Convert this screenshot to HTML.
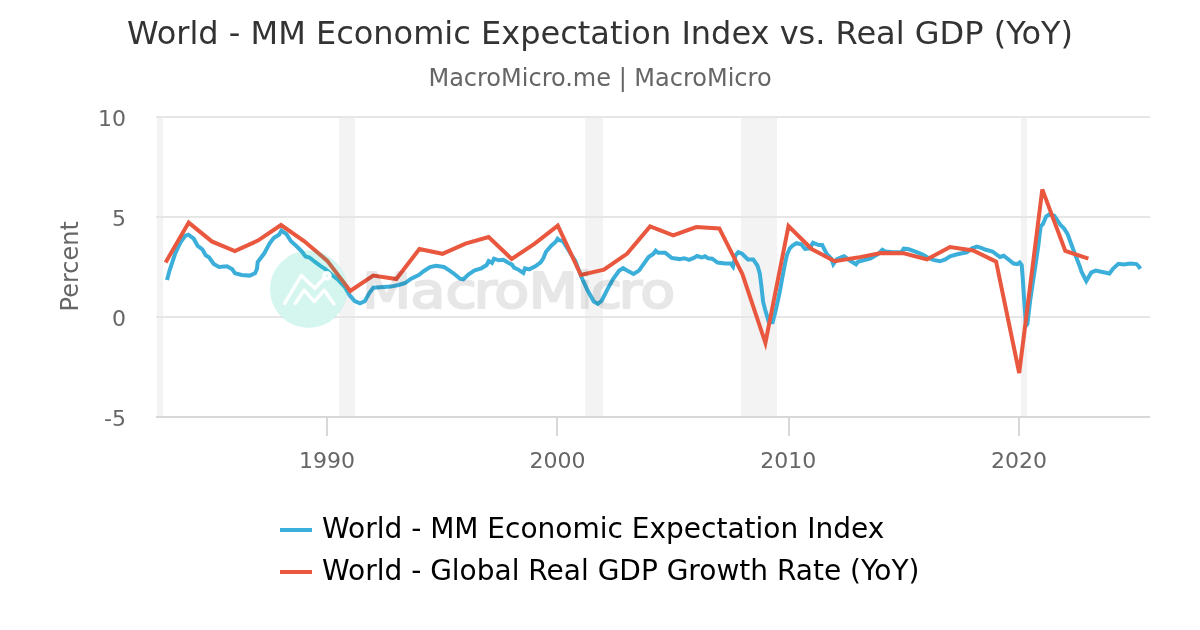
<!DOCTYPE html>
<html lang="en">
<head>
<meta charset="utf-8">
<title>World - MM Economic Expectation Index vs. Real GDP (YoY)</title>
<style>
html,body{margin:0;padding:0;background:#fff;}
body{width:1200px;height:630px;overflow:hidden;font-family:"DejaVu Sans","Liberation Sans",sans-serif;}
svg{display:block;}
svg text{font-family:"DejaVu Sans","Liberation Sans",sans-serif;}
</style>
</head>
<body>
<svg width="1200" height="630" viewBox="0 0 1200 630">
<rect width="1200" height="630" fill="#ffffff"/>
<g id="bands"><rect x="157" y="117" width="6.0" height="300" fill="#f3f3f3"/><rect x="339.2" y="117" width="15.7" height="300" fill="#f3f3f3"/><rect x="585.1" y="117" width="17.8" height="300" fill="#f3f3f3"/><rect x="741.1" y="117" width="35.9" height="300" fill="#f3f3f3"/><rect x="1021" y="117" width="5.9" height="300" fill="#f3f3f3"/></g>
<g id="grid"><path d="M156 117H1150" stroke="#e6e6e6" stroke-width="2"/><path d="M156 217H1150" stroke="#e6e6e6" stroke-width="2"/><path d="M156 317H1150" stroke="#e6e6e6" stroke-width="2"/></g>
<path d="M156 417H1150" stroke="#d8d8d8" stroke-width="2"/>
<g id="ticks"><path d="M327 416V436" stroke="#d8d8d8" stroke-width="2"/><path d="M557 416V436" stroke="#d8d8d8" stroke-width="2"/><path d="M789 416V436" stroke="#d8d8d8" stroke-width="2"/><path d="M1019 416V436" stroke="#d8d8d8" stroke-width="2"/></g>
<text x="600" y="44" text-anchor="middle" font-size="32" fill="#333333">World - MM Economic Expectation Index vs. Real GDP (YoY)</text>
<text x="600" y="86" text-anchor="middle" font-size="24" fill="#666666">MacroMicro.me | MacroMicro</text>
<text transform="translate(78,266.3) rotate(-90)" text-anchor="middle" font-size="24" fill="#666666">Percent</text>
<g font-size="22" fill="#666666"><text x="326.9" y="468" text-anchor="middle">1990</text><text x="557.6" y="468" text-anchor="middle">2000</text><text x="788.3" y="468" text-anchor="middle">2010</text><text x="1019.0" y="468" text-anchor="middle">2020</text><text x="126" y="126" text-anchor="end">10</text><text x="126" y="226" text-anchor="end">5</text><text x="126" y="326" text-anchor="end">0</text><text x="126" y="426" text-anchor="end">-5</text></g>
<circle cx="308.6" cy="289.3" r="38.2" fill="#ffffff"/>
<g id="series" fill="none" stroke-width="4">
<polyline stroke="#3bafda" stroke-linejoin="miter" stroke-linecap="butt" points="167.0,280.0 169.7,270.0 175.0,254.0 180.3,242.7 185.0,236.0 188.3,234.7 193.7,238.7 197.7,246.0 202.3,249.3 205.7,255.3 209.0,257.3 213.7,264.0 219.0,267.0 227.0,266.3 232.3,269.3 235.0,273.3 241.7,275.0 249.7,275.6 255.0,273.3 257.0,268.7 257.7,262.0 261.7,256.7 264.3,253.3 269.7,243.3 273.7,238.0 279.0,234.7 281.4,230.7 286.3,234.0 291.0,241.3 296.3,246.0 301.7,251.3 305.5,256.4 309.5,257.5 314.7,261.7 320.0,265.7 325.3,269.0 332.0,275.0 338.7,280.3 345.3,287.7 350.0,295.7 354.7,301.0 360.0,303.4 364.7,301.3 369.3,293.0 373.3,287.7 380.0,287.3 390.7,286.6 398.7,285.0 405.3,283.0 410.7,279.0 418.7,275.0 424.0,271.0 430.0,267.0 436.0,265.7 444.0,267.0 449.3,270.3 455.0,274.5 460.0,278.7 463.3,279.3 468.7,274.3 474.7,270.3 481.3,268.3 486.7,265.0 488.7,261.0 492.0,263.0 494.0,258.7 498.7,260.3 503.3,259.7 508.7,263.0 512.0,264.6 514.0,267.7 518.0,269.4 523.3,273.0 525.0,268.3 529.3,269.4 535.3,266.3 540.7,262.3 543.3,258.3 546.0,251.7 551.3,245.7 556.0,241.5 557.6,238.8 559.3,240.2 562.7,241.0 567.3,248.3 575.3,261.0 581.2,276.5 587.4,290.0 593.8,301.5 597.8,303.9 601.7,300.7 607.3,289.6 612.9,279.3 619.2,270.6 623.2,268.2 627.1,270.6 633.5,274.0 639.0,270.6 644.6,262.6 648.6,257.0 653.3,253.9 655.7,250.7 658.1,252.8 665.2,252.8 671.6,257.9 679.5,259.1 684.3,258.2 689.0,259.8 693.8,257.9 697.0,256.0 701.7,257.5 704.9,256.3 708.1,258.2 712.1,258.7 717.6,262.6 725.0,263.5 730.7,263.6 733.0,266.6 735.5,255.5 738.3,252.2 742.1,253.7 747.9,259.4 753.2,259.4 757.4,265.5 759.7,273.1 761.2,284.5 763.1,301.7 765.0,309.3 767.3,316.9 768.8,322.3 772.6,322.3 775.5,311.2 779.3,294.0 782.1,278.8 785.0,263.6 786.9,255.0 789.8,248.3 792.6,245.5 796.4,243.2 801.2,244.3 805.0,248.9 809.8,248.3 813.0,242.8 818.9,245.0 822.2,245.0 826.7,253.9 831.1,258.3 833.3,264.3 836.7,259.4 842.2,256.8 844.0,256.3 850.7,261.0 856.0,264.3 858.0,261.7 870.7,258.3 878.7,253.7 882.4,249.7 885.3,251.4 893.3,252.3 901.3,252.3 903.7,248.7 908.0,249.0 914.7,251.4 922.7,254.6 928.0,257.7 933.3,259.9 940.0,261.3 945.3,259.4 950.0,256.3 957.3,254.3 966.7,252.3 972.0,248.3 976.7,246.6 981.3,247.9 985.0,249.5 992.5,251.5 1000.0,257.0 1003.8,255.8 1013.6,263.6 1017.4,264.1 1019.7,262.5 1021.7,265.0 1022.7,277.7 1024.2,300.3 1025.7,321.4 1026.6,325.0 1027.4,324.0 1030.2,300.3 1034.7,270.2 1038.5,244.5 1039.5,235.3 1040.8,226.3 1043.0,224.0 1046.1,216.5 1049.1,214.5 1054.3,215.7 1060.4,224.8 1064.1,228.5 1067.6,234.1 1070.2,241.3 1074.7,253.4 1080.0,267.0 1081.5,271.7 1086.3,281.0 1091.3,272.4 1095.8,270.6 1101.1,271.7 1109.4,273.5 1113.2,268.6 1118.4,263.8 1123.7,264.4 1130.5,263.4 1136.5,264.1 1138.8,266.4 1140.3,268.9"/>
<polyline stroke="#e9573f" stroke-linejoin="miter" points="165.6,262.4 188.7,222.6 211.8,241.4 234.8,251.0 257.9,240.6 281.0,225.0 304.0,241.0 327.1,260.6 350.2,291.0 373.2,275.6 396.3,279.0 419.4,249.0 442.5,253.8 465.5,243.6 488.6,237.0 511.7,259.0 534.7,243.6 557.8,225.6 580.9,275.0 603.9,269.6 627.0,253.8 650.1,226.4 673.2,235.4 696.2,227.0 719.3,228.4 742.4,274.0 765.4,343.0 788.5,226.0 811.6,249.0 834.6,261.2 857.7,257.6 880.8,253.0 903.9,253.2 926.9,259.4 950.0,247.0 973.1,250.4 996.1,261.6 1019.2,373.0 1042.3,189.4 1065.3,251.0 1088.4,258.6"/>
</g>
<g id="watermark">
<circle cx="308.6" cy="289.3" r="38.7" fill="#00c8a0" fill-opacity="0.165"/>
<g fill="none" stroke="#ffffff" stroke-width="3.5" stroke-linecap="round" stroke-linejoin="round" stroke-opacity="0.95">
<polyline points="284.6,303.3 301.4,275.4 314.9,288.2 324.2,278.3"/>
<circle cx="327" cy="275.8" r="3"/>
<polyline points="295.4,303.3 304.1,290.2 314.3,301.7 324.4,290.2 333.8,303.7"/>
</g>
<text transform="scale(1.14,1)" x="317.6 360 390.7 415.5 433.6 463.8 506 518.3 542.8 561.6" y="307.6" font-family="'DejaVu Sans','Liberation Sans',sans-serif" font-size="50" fill="#000000" stroke="#000000" stroke-width="2.2" stroke-linejoin="round" opacity="0.09">MacroMicro</text>
</g>
<g id="legend">
<path d="M280 530H312" stroke="#3bafda" stroke-width="4"/>
<path d="M280 572H312" stroke="#e9573f" stroke-width="4"/>
<text x="322" y="537.5" font-size="28" fill="#000000">World - MM Economic Expectation Index</text>
<text x="322" y="579.5" font-size="28" fill="#000000">World - Global Real GDP Growth Rate (YoY)</text>
</g>
</svg>
</body>
</html>
